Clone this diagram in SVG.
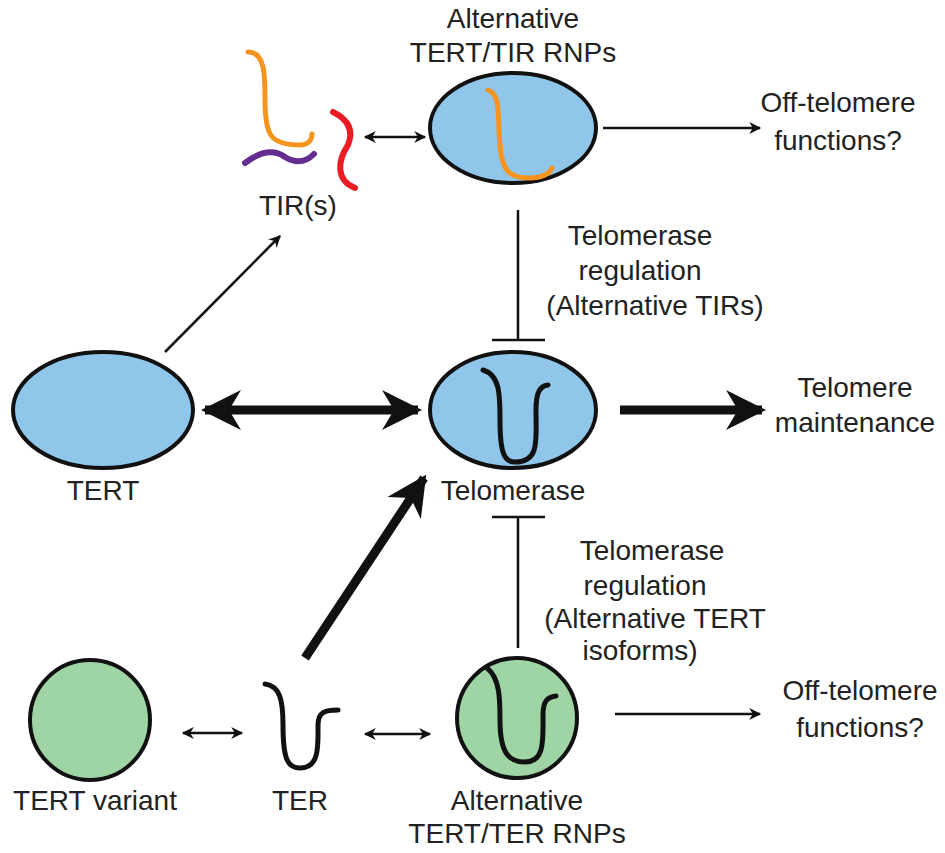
<svg xmlns="http://www.w3.org/2000/svg" width="945" height="853" viewBox="0 0 945 853">
<defs>
<style>
text{font-family:"Liberation Sans",Arial,sans-serif;font-size:28px;fill:#222;text-anchor:middle}
.blue{fill:#8fc6ea;stroke:#111;stroke-width:4}
.green{fill:#9fd4a4;stroke:#111;stroke-width:4}
.thin{stroke:#111;stroke-width:2.5;fill:none}
.thick{stroke:#111;stroke-width:9;fill:none}
.strand{fill:none;stroke-linecap:round}
</style>
<marker id="ah" viewBox="0 0 10 10" refX="9" refY="5" markerWidth="6" markerHeight="6" orient="auto-start-reverse" markerUnits="userSpaceOnUse"><path d="M0,0 L10,5 L0,10 L3,5z" fill="#111"/></marker>
<marker id="as" viewBox="0 0 10 10" refX="9" refY="5" markerWidth="14" markerHeight="12" orient="auto-start-reverse" markerUnits="userSpaceOnUse"><path d="M0,0 L10,5 L0,10 L3,5z" fill="#111"/></marker>
<marker id="ab" viewBox="0 0 10 10" refX="9" refY="5" markerWidth="45" markerHeight="40" orient="auto-start-reverse" markerUnits="userSpaceOnUse"><path d="M0,0 L10,5 L0,10 L3,5z" fill="#111"/></marker>
</defs>
<g id="connectors">
<line class="thick" x1="205" y1="410" x2="418" y2="410" marker-start="url(#ab)" marker-end="url(#ab)" stroke-width="8"/>
<line class="thick" x1="620" y1="410" x2="762" y2="410" marker-end="url(#ab)" stroke-width="10"/>
<line class="thick" x1="305" y1="658" x2="424" y2="478" marker-end="url(#ab)" stroke-width="8"/>
<line class="thin" x1="603" y1="128" x2="760" y2="128" marker-end="url(#as)"/>
<line class="thin" x1="615" y1="714" x2="760" y2="714" marker-end="url(#as)"/>
<line class="thin" x1="165" y1="352" x2="280" y2="236" marker-end="url(#as)"/>
<line class="thin" x1="365" y1="137" x2="425" y2="137" marker-start="url(#as)" marker-end="url(#as)"/>
<line class="thin" x1="183" y1="733" x2="242" y2="733" marker-start="url(#as)" marker-end="url(#as)"/>
<line class="thin" x1="365" y1="734" x2="430" y2="734" marker-start="url(#as)" marker-end="url(#as)"/>
<line class="thin" x1="518" y1="210" x2="518" y2="340"/>
<line class="thin" x1="492" y1="340" x2="545" y2="340"/>
<line class="thin" x1="518" y1="517" x2="518" y2="648"/>
<line class="thin" x1="492" y1="517" x2="545" y2="517"/>
</g>
<g id="tert">
<ellipse class="blue" cx="103" cy="410" rx="90" ry="58"/>
<text x="103" y="500">TERT</text>
</g>
<g id="telomerase">
<ellipse class="blue" cx="513" cy="410" rx="83" ry="58"/>
<path class="strand" stroke="#111" stroke-width="5" d="M483,370 C500,375 500,395 500,420 C500,455 505,462 515,462 C540,462 536,440 536,410 C536,392 540,386 548,385"/>
<text x="513" y="500">Telomerase</text>
</g>
<g id="alt-tir">
<ellipse class="blue" cx="513" cy="128" rx="83" ry="55"/>
<path class="strand" stroke="#f7941d" stroke-width="5" d="M488,90 C502,95 497,120 500,145 C502,172 510,178 530,178 C545,178 550,172 552,168"/>
<text x="513" y="28">Alternative</text>
<text x="513" y="62">TERT/TIR RNPs</text>
</g>
<g id="tirs">
<path class="strand" stroke="#f7941d" stroke-width="5" d="M248,52 C265,52 265,75 265,100 C265,135 270,145 300,145 C308,145 312,140 312,134"/>
<path class="strand" stroke="#662d91" stroke-width="6" d="M245,163 C262,150 275,150 285,157 C295,163 305,163 314,154"/>
<path class="strand" stroke="#ed1c24" stroke-width="6" d="M333,112 C345,118 355,128 348,145 C338,160 335,180 355,188"/>
<text x="298" y="215">TIR(s)</text>
</g>
<g id="tert-variant">
<circle class="green" cx="90" cy="720" r="60"/>
<text x="95" y="810">TERT variant</text>
</g>
<g id="ter">
<path class="strand" stroke="#111" stroke-width="5" d="M265,684 C280,686 283,700 283,725 C283,760 288,768 300,768 C320,768 318,745 318,725 C318,712 325,710 338,710"/>
<text x="300" y="810">TER</text>
</g>
<g id="alt-ter">
<circle class="green" cx="517" cy="718" r="60"/>
<path class="strand" stroke="#111" stroke-width="5" d="M487,668 C500,678 500,700 500,720 C500,755 510,762 525,762 C545,762 543,740 543,715 C543,700 548,697 556,696"/>
<text x="517" y="810">Alternative</text>
<text x="517" y="843">TERT/TER RNPs</text>
</g>
<g id="labels">
<text x="838" y="112">Off-telomere</text>
<text x="838" y="150">functions?</text>
<text x="855" y="397">Telomere</text>
<text x="855" y="432">maintenance</text>
<text x="860" y="700">Off-telomere</text>
<text x="860" y="737">functions?</text>
<text x="640" y="245">Telomerase</text>
<text x="640" y="280">regulation</text>
<text x="655" y="315">(Alternative TIRs)</text>
<text x="652" y="560">Telomerase</text>
<text x="645" y="595">regulation</text>
<text x="655" y="628">(Alternative TERT</text>
<text x="640" y="660">isoforms)</text>
</g>
</svg>
